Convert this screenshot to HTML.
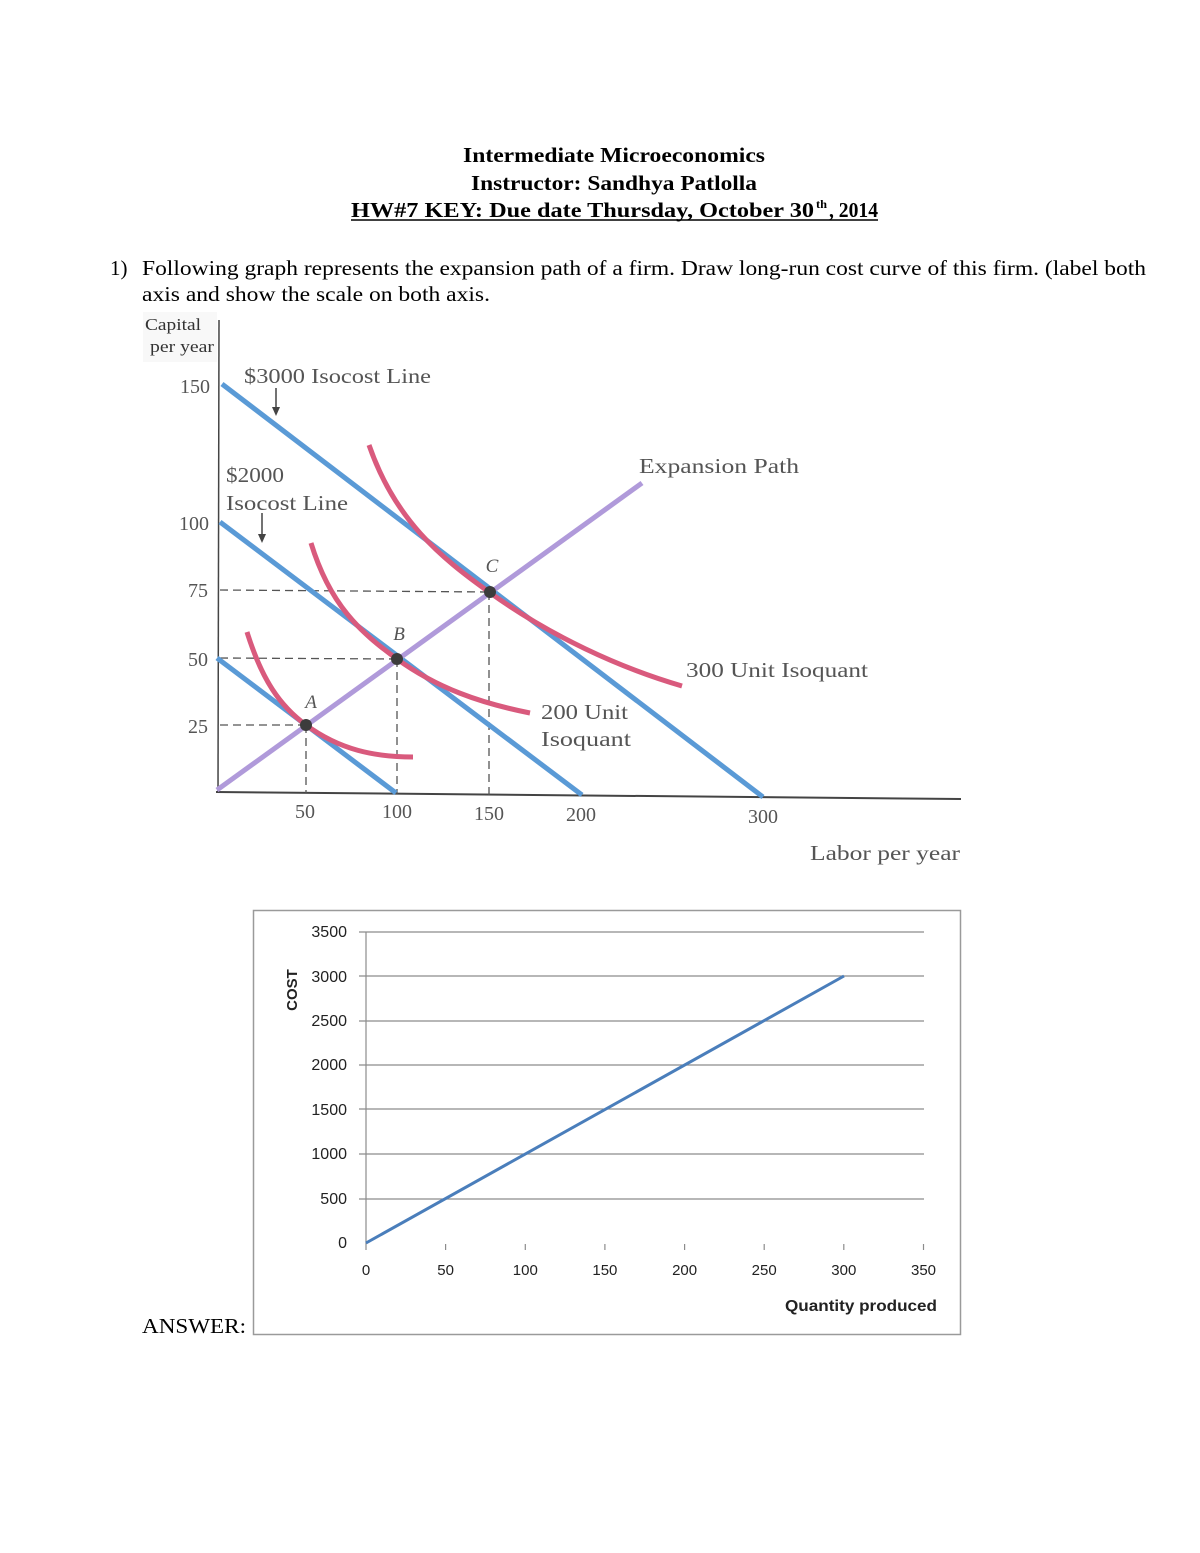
<!DOCTYPE html>
<html><head><meta charset="utf-8"><style>
html,body{margin:0;padding:0;background:#fff;}
svg{display:block;}
</style></head><body>
<svg width="1200" height="1553" viewBox="0 0 1200 1553" xmlns="http://www.w3.org/2000/svg">
<rect width="1200" height="1553" fill="#fff"/>
<!-- Header -->
<g font-family="'Liberation Serif', serif" font-weight="bold" font-size="21" fill="#000">
<text x="463" y="162" textLength="302" lengthAdjust="spacingAndGlyphs">Intermediate Microeconomics</text>
<text x="471" y="190" textLength="286" lengthAdjust="spacingAndGlyphs">Instructor: Sandhya Patlolla</text>
<text x="351" y="217" textLength="463" lengthAdjust="spacingAndGlyphs">HW#7 KEY: Due date Thursday, October 30</text>
<text x="816" y="208" font-size="12" textLength="11" lengthAdjust="spacingAndGlyphs">th</text>
<text x="829" y="217" textLength="49" lengthAdjust="spacingAndGlyphs">, 2014</text>
</g>
<line x1="351" y1="220" x2="878" y2="220" stroke="#000" stroke-width="1.6"/>
<!-- Question -->
<g font-family="'Liberation Serif', serif" font-size="21" fill="#000">
<text x="110" y="275">1)</text>
<text x="142" y="275" textLength="1004" lengthAdjust="spacingAndGlyphs">Following graph represents the expansion path of a firm. Draw long-run cost curve of this firm. (label both</text>
<text x="142" y="301" textLength="348" lengthAdjust="spacingAndGlyphs">axis and show the scale on both axis.</text>
</g>

<!-- Top chart -->
<rect x="143" y="312" width="74" height="50" fill="#f8f8f8"/>
<g font-family="'Liberation Serif', serif" fill="#333" font-size="17">
<text x="145" y="330" textLength="56" lengthAdjust="spacingAndGlyphs">Capital</text>
<text x="150" y="352" textLength="64" lengthAdjust="spacingAndGlyphs">per year</text>
</g>
<!-- axes -->
<line x1="219" y1="320" x2="218" y2="792" stroke="#444" stroke-width="1.5"/>
<line x1="216" y1="792" x2="961" y2="799" stroke="#444" stroke-width="2"/>
<!-- dashed -->
<g stroke="#555" stroke-width="1.3" stroke-dasharray="8,5" fill="none">
<line x1="220" y1="590" x2="489" y2="592"/>
<line x1="220" y1="658" x2="397" y2="659"/>
<line x1="220" y1="725" x2="306" y2="725"/>
<line x1="306" y1="725" x2="306" y2="793"/>
<line x1="397" y1="659" x2="397" y2="794"/>
<line x1="489" y1="592" x2="489" y2="795"/>
</g>
<!-- isocost lines -->
<g stroke="#5a9ad6" stroke-width="5" fill="none" stroke-linecap="butt">
<line x1="222" y1="384" x2="763" y2="797"/>
<line x1="220" y1="522" x2="582" y2="795"/>
<line x1="217" y1="658" x2="396" y2="793"/>
</g>
<!-- expansion path -->
<line x1="217" y1="790" x2="642" y2="483" stroke="#b09ada" stroke-width="5"/>
<!-- isoquants -->
<g stroke="#d95a7d" stroke-width="5" fill="none">
<path d="M247,632 C262,680 280,706 306,725 C340,750 375,757 413,757"/>
<path d="M311,543 C330,605 360,632 397,659 C437,688 480,703 530,713"/>
<path d="M369,445 C395,520 440,557 489,592 C550,636 620,668 682,686"/>
</g>
<!-- points -->
<g fill="#3c3c3c">
<circle cx="306" cy="725" r="6"/>
<circle cx="397" cy="659" r="6"/>
<circle cx="490" cy="592" r="6"/>
</g>
<!-- arrows -->
<g stroke="#444" stroke-width="1.5" fill="#444">
<line x1="276" y1="388" x2="276" y2="410"/>
<path d="M272,407 L276,416 L280,407 Z" stroke="none"/>
<line x1="262" y1="513" x2="262" y2="537"/>
<path d="M258,534 L262,543 L266,534 Z" stroke="none"/>
</g>
<!-- labels -->
<g font-family="'Liberation Serif', serif" fill="#555" font-size="21">
<text x="244" y="383" textLength="187" lengthAdjust="spacingAndGlyphs">$3000 Isocost Line</text>
<text x="226" y="482" textLength="58" lengthAdjust="spacingAndGlyphs">$2000</text>
<text x="226" y="510" textLength="122" lengthAdjust="spacingAndGlyphs">Isocost Line</text>
<text x="639" y="473" textLength="160" lengthAdjust="spacingAndGlyphs">Expansion Path</text>
<text x="686" y="677" textLength="182" lengthAdjust="spacingAndGlyphs">300 Unit Isoquant</text>
<text x="541" y="719" textLength="87" lengthAdjust="spacingAndGlyphs">200 Unit</text>
<text x="541" y="746" textLength="90" lengthAdjust="spacingAndGlyphs">Isoquant</text>
<text x="810" y="860" textLength="150" lengthAdjust="spacingAndGlyphs">Labor per year</text>
<g text-anchor="end" font-size="20">
<text x="210" y="393">150</text>
<text x="209" y="530">100</text>
<text x="208" y="597">75</text>
<text x="208" y="666">50</text>
<text x="208" y="733">25</text>
</g>
<g text-anchor="middle" font-size="20">
<text x="305" y="818">50</text>
<text x="397" y="818">100</text>
<text x="489" y="820">150</text>
<text x="581" y="821">200</text>
<text x="763" y="823">300</text>
</g>
<g font-style="italic" font-size="19" text-anchor="middle">
<text x="492" y="572">C</text>
<text x="399" y="640">B</text>
<text x="311" y="708">A</text>
</g>
</g>

<!-- Bottom chart -->
<rect x="253.5" y="910.5" width="707" height="424" fill="#fff" stroke="#9a9a9a" stroke-width="1.5"/>
<g stroke="#8c8c8c" stroke-width="1.2">
<line x1="359" y1="932" x2="924" y2="932"/>
<line x1="359" y1="976" x2="924" y2="976"/>
<line x1="359" y1="1021" x2="924" y2="1021"/>
<line x1="359" y1="1065" x2="924" y2="1065"/>
<line x1="359" y1="1109" x2="924" y2="1109"/>
<line x1="359" y1="1154" x2="924" y2="1154"/>
<line x1="359" y1="1199" x2="924" y2="1199"/>
<line x1="366" y1="932" x2="366" y2="1250"/>
<line x1="445.6" y1="1244" x2="445.6" y2="1250"/>
<line x1="525.3" y1="1244" x2="525.3" y2="1250"/>
<line x1="604.9" y1="1244" x2="604.9" y2="1250"/>
<line x1="684.6" y1="1244" x2="684.6" y2="1250"/>
<line x1="764.2" y1="1244" x2="764.2" y2="1250"/>
<line x1="843.8" y1="1244" x2="843.8" y2="1250"/>
<line x1="923.5" y1="1244" x2="923.5" y2="1250"/>
</g>
<line x1="366" y1="1243" x2="844" y2="976" stroke="#4a7ebb" stroke-width="3"/>
<g font-family="'Liberation Sans', sans-serif" font-size="16" fill="#222">
<g text-anchor="end">
<text x="347" y="937">3500</text>
<text x="347" y="982">3000</text>
<text x="347" y="1026">2500</text>
<text x="347" y="1070">2000</text>
<text x="347" y="1115">1500</text>
<text x="347" y="1159">1000</text>
<text x="347" y="1204">500</text>
<text x="347" y="1248">0</text>
</g>
<g text-anchor="middle" font-size="15">
<text x="366" y="1275">0</text>
<text x="445.6" y="1275">50</text>
<text x="525.3" y="1275">100</text>
<text x="604.9" y="1275">150</text>
<text x="684.6" y="1275">200</text>
<text x="764.2" y="1275">250</text>
<text x="843.8" y="1275">300</text>
<text x="923.5" y="1275">350</text>
</g>
<text x="785" y="1311" font-weight="bold" textLength="152" lengthAdjust="spacingAndGlyphs">Quantity produced</text>
<text transform="translate(297,990) rotate(-90)" text-anchor="middle" font-weight="bold" font-size="15">COST</text>
</g>
<text x="142" y="1333" font-family="'Liberation Serif', serif" font-size="21" fill="#000" textLength="104" lengthAdjust="spacingAndGlyphs">ANSWER:</text>
</svg>
</body></html>
